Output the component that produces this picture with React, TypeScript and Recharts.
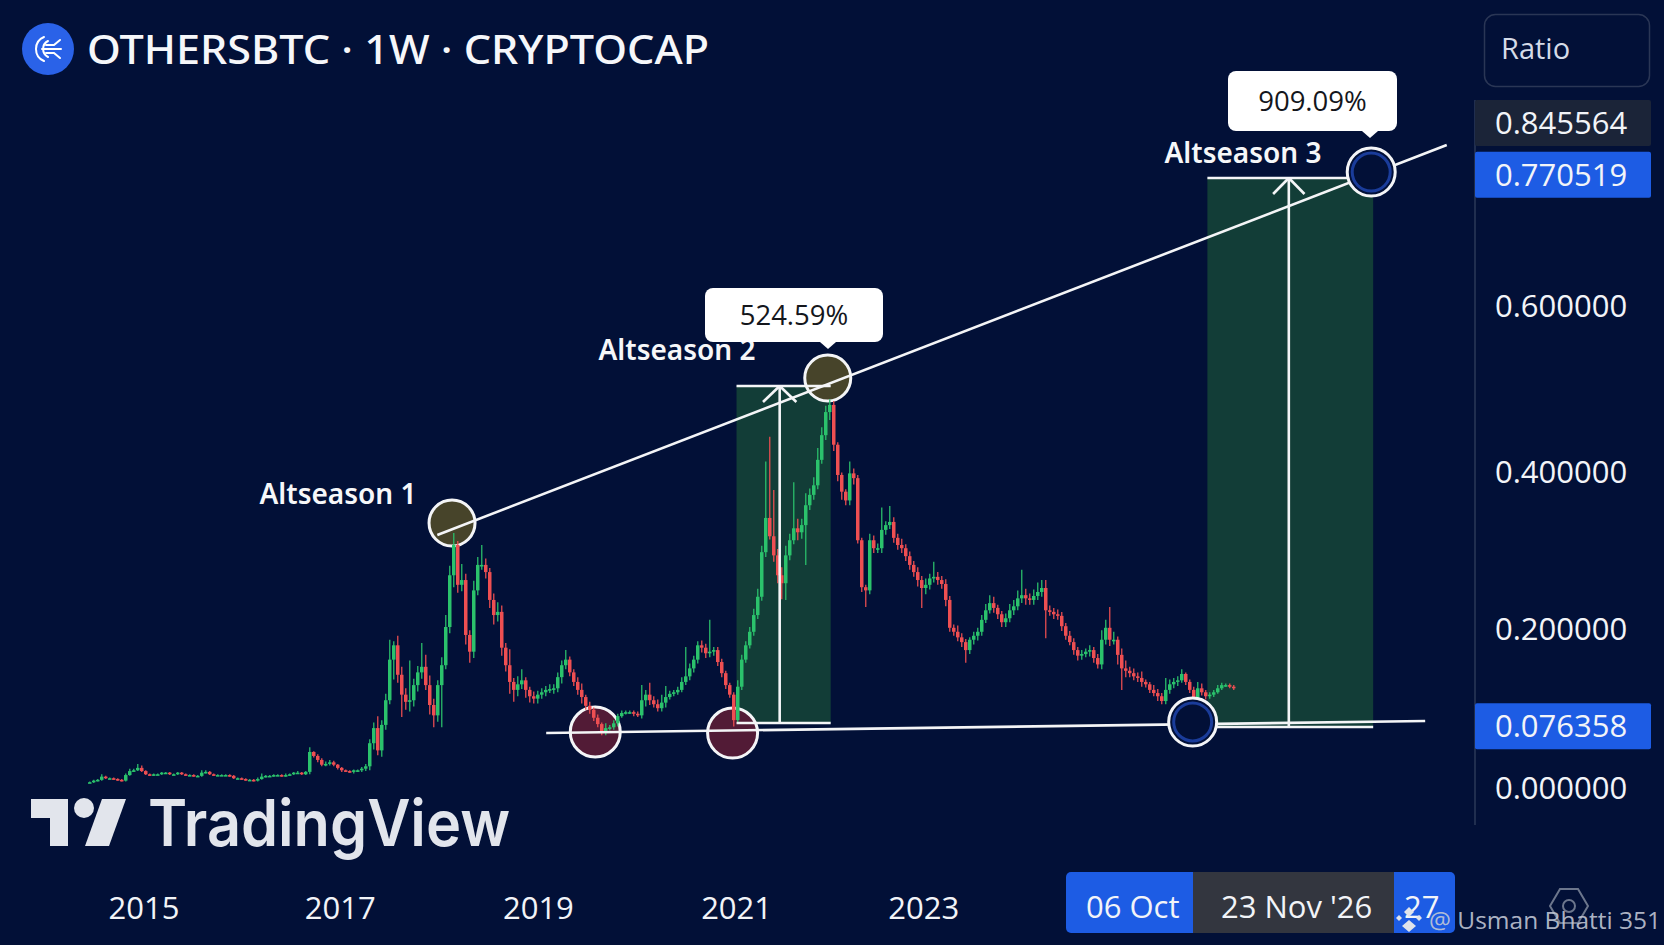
import React from "react";
import { ComposedChart, Bar, XAxis, YAxis, ReferenceArea, ReferenceDot, ReferenceLine } from "recharts";

const BG = "#021037";
const firstCandleYear = 2014.4495;
const candleStepYears = 0.040775;

const closes = [
  .006,.008,.009,.013,.011,.011,.010,.009,.008,.015,
  .020,.021,.024,.020,.016,.015,.016,.016,.018,.018,
  .016,.016,.018,.016,.015,.015,.014,.014,.018,.019,
  .016,.015,.015,.015,.015,.014,.011,.011,.010,.009,
  .009,.008,.010,.013,.014,.014,.015,.015,.014,.015,
  .016,.018,.018,.016,.019,.044,.039,.034,.028,.029,
  .031,.028,.024,.021,.020,.019,.021,.021,.023,.026,
  .055,.074,.046,.078,.109,.160,.178,.141,.116,.107,
  .109,.128,.144,.151,.128,.103,.090,.128,.153,.201,
  .266,.304,.254,.260,.191,.170,.247,.279,.279,.270,
  .235,.216,.220,.175,.153,.132,.122,.129,.134,.122,
  .114,.111,.116,.119,.122,.123,.124,.138,.153,.160,
  .144,.132,.122,.113,.102,.097,.087,.079,.068,.074,
  .075,.080,.089,.093,.094,.094,.092,.090,.109,.116,
  .109,.104,.099,.106,.113,.117,.119,.122,.132,.139,
  .149,.160,.178,.175,.168,.170,.172,.157,.143,.128,
  .116,.084,.126,.160,.178,.195,.216,.239,.295,.338,
  .315,.291,.266,.256,.291,.310,.325,.320,.329,.354,
  .367,.379,.411,.442,.471,.480,.430,.392,.371,.360,
  .394,.388,.310,.251,.247,.310,.300,.300,.323,.329,
  .333,.313,.304,.300,.290,.279,.270,.260,.250,.254,
  .262,.264,.260,.255,.235,.200,.195,.188,.182,.172,
  .185,.190,.195,.210,.222,.231,.225,.217,.207,.212,
  .222,.227,.237,.241,.237,.235,.240,.245,.250,.222,
  .220,.217,.215,.202,.190,.182,.172,.165,.167,.170,
  .172,.162,.154,.185,.200,.185,.185,.166,.149,.146,
  .143,.139,.137,.132,.129,.122,.118,.114,.108,.122,
  .129,.132,.134,.142,.132,.122,.109,.124,.119,.114,
  .116,.119,.124,.128,.128,.126,.124,
];

const upperWicks = [
  1,1,1,3,1,1,1,1,1,2, 3,2,5,3,1,1,1,1,1,1, 1,1,1,1,1,1,1,1,3,2, 1,1,1,1,1,1,1,1,1,1,
  1,1,2,4,1,1,1,1,1,2, 1,1,2,1,1,6,1,2,2,3, 3,2,1,1,1,1,1,1,2,3, 5,7,15,6,8,25,5,12,10,8,
  50,8,8,30,15,12,8,6,10,15, 12,15,5,20,8,6,12,10,25,8, 5,8,12,8,6,20,5,10,14,4, 4,6,5,5,5,6,5,6,6,12,
  4,4,6,8,3,5,3,4,2,6, 3,4,3,3,2,2,2,3,19,6, 15,5,6,10,14,4,3,4,6,37, 6,5,5,6,5,40,4,4,4,3,
  3,3,8,6,5,6,8,10,8,71, 102,58,8,10,12,8,58,12,8,15, 8,10,15,10,8,7,5,3,3,3, 15,6,4,3,3,8,6,6,28,5,
  20,6,5,8,5,6,5,6,5,8, 6,19,6,5,6,5,4,8,5,4, 3,5,5,6,8,10,8,4,4,6, 8,8,10,32,8,6,8,12,10,10,
  6,5,6,5,4,6,5,4,5,4, 6,4,5,12,10,26,10,4,8,10, 5,6,5,8,3,3,6,5,4,15, 6,5,5,6,2,3,4,8,6,3,
  3,3,4,3,2,2,2,
];

const lowerWicks = [
  1,1,1,1,1,1,1,1,1,1, 1,1,1,1,1,1,1,1,1,1, 1,1,1,1,1,1,1,1,1,1, 1,1,1,1,1,1,1,1,1,1,
  1,1,1,1,1,1,1,1,1,1, 1,1,1,1,1,3,2,3,2,2, 2,2,2,2,1,1,2,2,2,3, 5,8,6,8,6,5,25,10,28,10,
  12,8,8,8,6,12,15,8,53,5, 8,15,10,8,12,14,8,6,6,8, 10,12,8,10,8,15,15,8,6,10, 8,6,6,5,5,4,6,5,8,5,
  5,5,6,8,5,5,4,4,3,3, 3,3,4,2,2,2,3,2,4,8, 6,4,4,4,6,3,3,3,3,4, 5,5,5,6,6,5,5,5,5,5,
  4,8,4,4,4,4,5,5,5,6, 4,8,10,20,21,6,5,10,8,50, 6,6,5,5,6,10,8,8,10,6, 6,8,4,6,21,5,6,6,6,6,
  5,6,6,6,6,6,6,8,25,8, 6,5,6,6,8,5,5,5,6,16, 5,6,6,5,4,4,6,6,6,6, 5,6,5,6,8,6,6,5,6,35,
  5,6,5,6,5,4,6,6,5,4, 6,6,5,6,6,8,6,12,27,8, 5,5,5,6,4,4,4,6,4,4, 5,5,5,3,4,4,4,5,4,4,
  3,3,2,2,2,2,2,
];

const yearTicks = [2015, 2017, 2019, 2021, 2023];
const yearNudge: Record<string, number> = { "2019": 2, "2021": 4, "2023": -5 };
const priceTicks = [0, 0.076358, 0.2, 0.4, 0.6, 0.770519, 0.845564];
const xDomain = [2013.532, 2028.568];
const yDomain = [-0.04774, 0.86307];

const pricePills: Record<string, { fill: string; dy: number }> = {
  "0.845564": { fill: "#1b2438", dy: 9 },
  "0.770519": { fill: "#1d5ce4", dy: 1 },
  "0.076358": { fill: "#1d5ce4", dy: 0 },
};
const priceNudge: Record<string, number> = { "0.6": -3, "0.4": 3, "0.2": 1, "0": 1 };

const candles = closes.map((close, i) => {
  const open = i === 0 ? close : closes[i - 1];
  const high = Math.max(open, close) + (upperWicks[i] ?? 1) / 1000;
  const low = Math.min(open, close) - (lowerWicks[i] ?? 1) / 1000;
  return { t: firstCandleYear + i * candleStepYears, open, close, high, low, range: [low, high] };
});

const trendTop = [{ x: 2017.99, y: 0.3166 }, { x: 2028.28, y: 0.8065 }];
const trendBottom = [{ x: 2019.1, y: 0.0678 }, { x: 2028.06, y: 0.0829 }];

const CandleShape = (p: any) => {
  const { x, y, width, height, payload } = p;
  const { open, close, high, low } = payload;
  const at = (v: number) => y + ((high - v) / (high - low)) * height;
  const up = close >= open;
  const color = up ? "#2bc26c" : "#ee4f52";
  const top = at(Math.max(open, close));
  const bottom = at(Math.min(open, close));
  const cx = x + width / 2;
  return (
    <g>
      <line x1={cx} x2={cx} y1={y} y2={y + height} stroke={color} strokeWidth={1.4} opacity={0.9} />
      <rect x={x} y={top} width={width} height={Math.max(bottom - top, 1.6)} fill={color} />
    </g>
  );
};

const white = "#f4f5f7";

const YearTick = (p: any) => (
  <text x={p.x + (yearNudge[String(p.payload.value)] ?? 0)} y={p.y + 74} textAnchor="middle" dominantBaseline="central" fill="#f2f4f8"
    style={{ fontFamily: "'Open Sans'", fontSize: 31 }}>
    {p.payload.value}
  </text>
);

const PriceTick = (p: any) => {
  const key = String(p.payload.value);
  const pill = pricePills[key];
  const cy = p.y + (pill ? pill.dy : priceNudge[key] ?? 0);
  return (
    <g>
      {pill && <rect x={1475} y={cy - 23} width={176} height={46} rx={2} fill={pill.fill} />}
      <text x={1495} y={cy - 1} dominantBaseline="central" fill="#f2f4f8"
        style={{ fontFamily: "'Open Sans'", fontSize: 31 }}>
        {p.payload.value.toFixed(6)}
      </text>
    </g>
  );
};

const seg = (a: number, b: number, c: number, d: number, w = 2.6) => (
  <ReferenceLine segment={[{ x: a, y: b }, { x: c, y: d }]} stroke={white} strokeWidth={w} ifOverflow="visible" />
);

const Callout = ({ x, y, w, h, tx, label }: any) => (
  <g>
    <rect x={x} y={y} width={w} height={h} rx={8} fill="#fff" />
    <polygon points={`${tx - 8},${y + h} ${tx + 8},${y + h} ${tx},${y + h + 7}`} fill="#fff" />
    <text x={x + w / 2} y={y + h / 2 - 1} textAnchor="middle" dominantBaseline="central" fill="#14161c"
      style={{ fontFamily: "'Open Sans'", fontSize: 27.5 }}>{label}</text>
  </g>
);

const AltLabel = ({ x, y, label }: any) => (
  <text x={x} y={y} textAnchor="middle" dominantBaseline="central" fill="#f6f7f9"
    style={{ fontFamily: "'Noto Sans'", fontWeight: 600, fontSize: 28 }}>{label}</text>
);

const under: any = { zIndex: 200 };

export default function App() {
  return (
    <div style={{ position: "absolute", left: 0, top: 0, width: 1664, height: 945, background: BG, overflow: "hidden" }}>
      <ComposedChart width={1664} height={945} data={candles} margin={{ top: 100, right: 0, bottom: 0, left: 0 }}>
        <XAxis dataKey="t" type="number" domain={xDomain} ticks={yearTicks} allowDataOverflow height={120}
          axisLine={false} tickLine={false} tick={YearTick} interval={0} />
        <YAxis orientation="right" type="number" domain={yDomain} ticks={priceTicks} allowDataOverflow width={189}
          axisLine={{ stroke: "#2b3858", strokeWidth: 1.5 }} tickLine={false} tick={PriceTick} interval={0} />

        <ReferenceArea x1={2021.04} x2={2022.0} y1={0.0804} y2={0.5038} fill="#123d37" fillOpacity={1} stroke="none" />
        <ReferenceArea x1={2025.84} x2={2027.53} y1={0.0754} y2={0.7651} fill="#123d37" fillOpacity={1} stroke="none" />

        <ReferenceDot x={2018.14} y={0.3317} r={23} fill="#47442a" stroke={white} strokeWidth={3} {...under} />
        <ReferenceDot x={2021.97} y={0.5138} r={23} fill="#47442a" stroke={white} strokeWidth={3} {...under} />
        <ReferenceDot x={2019.6} y={0.0691} r={25} fill="#521b36" stroke={white} strokeWidth={3} {...under} />
        <ReferenceDot x={2021.0} y={0.0678} r={25} fill="#521b36" stroke={white} strokeWidth={3} {...under} />

        <Bar dataKey="range" barSize={3.5} shape={CandleShape} isAnimationActive={false} />

        {seg(trendTop[0].x, trendTop[0].y, trendTop[1].x, trendTop[1].y)}
        {seg(trendBottom[0].x, trendBottom[0].y, trendBottom[1].x, trendBottom[1].y)}

        {seg(2021.04, 0.5038, 2022.0, 0.5038)}
        {seg(2021.04, 0.0804, 2022.0, 0.0804)}
        {seg(2021.48, 0.0804, 2021.48, 0.5038)}
        {seg(2021.48, 0.5038, 2021.31, 0.4837)}
        {seg(2021.48, 0.5038, 2021.65, 0.4837)}

        {seg(2025.84, 0.7651, 2027.29, 0.7651)}
        {seg(2025.84, 0.0754, 2027.53, 0.0754)}
        {seg(2026.67, 0.0754, 2026.67, 0.7651)}
        {seg(2026.67, 0.7651, 2026.51, 0.745)}
        {seg(2026.67, 0.7651, 2026.83, 0.745)}

        <ReferenceDot x={2025.69} y={0.0817} r={24} fill={BG} stroke={white} strokeWidth={3} />
        <ReferenceDot x={2025.69} y={0.0817} r={19} fill={BG} stroke="#1a3c9a" strokeWidth={3} />
        <ReferenceDot x={2027.51} y={0.7726} r={24} fill={BG} stroke={white} strokeWidth={3} />
        <ReferenceDot x={2027.51} y={0.7726} r={19} fill={BG} stroke="#1a3c9a" strokeWidth={3} />
      </ComposedChart>

      <svg width={1664} height={945} style={{ position: "absolute", left: 0, top: 0, pointerEvents: "none" }}>
        {/* header */}
        <circle cx={48} cy={49} r={26} fill="#2a62e8" />
        <g fill="none" stroke="#fff" strokeWidth={2} strokeLinecap="round">
          <path d="M44 37 A13 13 0 0 0 44 61" />
          <path d="M48 41 A9 9 0 0 0 48 57" />
          <path d="M42 49 H61 M46 45 H54 L60 40 M46 53 H54 L60 58" />
        </g>
        <text x={87} y={48} dominantBaseline="central" fill="#f6f7fa" textLength={622} lengthAdjust="spacingAndGlyphs"
          style={{ fontFamily: "'Noto Sans'", fontWeight: 500, fontSize: 39 }}>OTHERSBTC · 1W · CRYPTOCAP</text>

        <rect x={1484.5} y={14.5} width={165} height={72} rx={11} fill="none" stroke="#2a3655" strokeWidth={1.5} />
        <text x={1501} y={47} dominantBaseline="central" fill="#d5dbe8" style={{ fontFamily: "'Open Sans'", fontSize: 29 }}>Ratio</text>

        {/* annotations */}
        <AltLabel x={338} y={493} label="Altseason 1" />
        <AltLabel x={677} y={349} label="Altseason 2" />
        <AltLabel x={1243} y={152} label="Altseason 3" />
        <Callout x={705} y={288} w={178} h={54} tx={828} label="524.59%" />
        <Callout x={1228} y={71} w={169} h={60} tx={1370} label="909.09%" />

        {/* TradingView logo */}
        <g fill="#e2e5ec">
          <polygon points="31,799 68,799 68,846 50,846 50,818 31,818" />
          <circle cx={84} cy={808} r={10} />
          <polygon points="102,799 126,799 109,846 85,846" />
          <text x={148} y={846} textLength={362} lengthAdjust="spacingAndGlyphs"
            style={{ fontFamily: "Inter", fontWeight: 600, fontSize: 64 }}>TradingView</text>
        </g>

        {/* date pills */}
        <rect x={1066} y={872} width={389} height={61} rx={5} fill="#1d5ce4" />
        <rect x={1193} y={872} width={201} height={61} fill="#33363f" />
        <text x={1086} y={906} dominantBaseline="central" fill="#f2f4f8" style={{ fontFamily: "'Open Sans'", fontSize: 31 }}>06 Oct</text>
        <text x={1221} y={906} dominantBaseline="central" fill="#f2f4f8" style={{ fontFamily: "'Open Sans'", fontSize: 31 }}>23 Nov '26</text>
        <text x={1404} y={906} dominantBaseline="central" fill="#f2f4f8" style={{ fontFamily: "'Open Sans'", fontSize: 31 }}>27</text>

        {/* settings + watermark */}
        <polygon points="1560,889 1578,889 1588,906 1578,923 1560,923 1550,906" fill="none" stroke="#6c768c" strokeWidth={2} />
        <circle cx={1569} cy={906} r={6} fill="none" stroke="#6c768c" strokeWidth={2} />
        <g fill="#dfe3ea">
          <polygon points="1409,907 1414,912 1409,917 1404,912" />
          <polygon points="1399,915 1402,918 1399,921 1396,918" />
          <polygon points="1419,915 1422,918 1419,921 1416,918" />
          <polygon points="1409,920 1416,926 1409,932 1402,926" />
        </g>
        <text x={1429} y={919} dominantBaseline="central" fill="#c3c9d6" fillOpacity={0.9}
          style={{ fontFamily: "'Open Sans'", fontSize: 24.5 }}>@ Usman Bhatti 351</text>
      </svg>
    </div>
  );
}
